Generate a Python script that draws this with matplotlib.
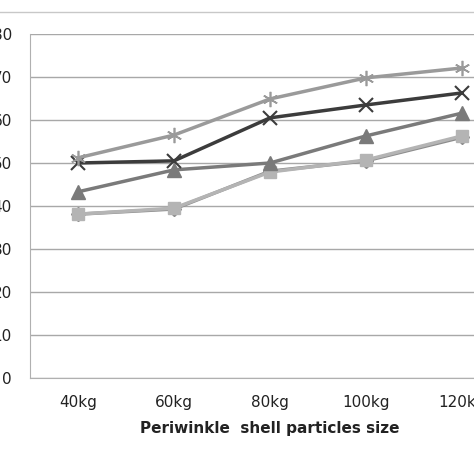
import matplotlib
matplotlib.use("Agg")
import matplotlib.pyplot as plt

cats = ["40kg", "60kg", "80kg", "100kg", "120kg"]
s_star = [51.2, 56.5, 64.9, 69.8, 72.1]
s_x = [50.0, 50.5, 60.5, 63.5, 66.3]
s_tri = [43.3, 48.4, 50.0, 56.3, 61.6]
s_dia = [38.1, 39.3, 48.1, 50.5, 56.0]
s_sq = [38.1, 39.5, 47.9, 50.7, 56.3]
yticks = [0, 10, 20, 30, 40, 50, 60, 70, 80]

fig = plt.figure(figsize=(4.74, 4.74), dpi=100)
fig.add_artist(plt.Line2D([0, 1], [1 - 12/474]*2, color="#c8c8c8", lw=1))
ax = fig.add_axes([30/474, 1 - 378/474, 480/474, (378-34)/474])
x = range(len(cats))
ax.plot(x, s_dia, color="#8c8c8c", lw=2.5, marker="D", ms=7)
ax.plot(x, s_sq, color="#b4b4b4", lw=2.5, marker="s", ms=9)
ax.plot(x, s_tri, color="#7a7a7a", lw=2.5, marker="^", ms=10)
ax.plot(x, s_x, color="#3c3c3c", lw=2.5, marker="x", ms=10, mew=1.5)
ax.plot(x, s_star, color="#9a9a9a", lw=2.5, marker=(6, 2, 0), ms=11, mew=1.2)
ax.set_xlim(-0.5, 4.5)
ax.set_ylim(0, 80)
ax.set_yticks(yticks)
ax.set_yticklabels([str(v) for v in yticks])
ax.set_xticks(list(x))
ax.set_xticklabels(cats)
ax.grid(axis="y", color="#a8a8a8", lw=1)
ax.set_axisbelow(True)
for s in ["top", "right"]:
    ax.spines[s].set_visible(False)
ax.spines["left"].set_color("#b0b0b0")
ax.spines["bottom"].set_color("#b0b0b0")
ax.tick_params(axis="both", length=0, labelsize=11, colors="#222222", pad=12)
ax.tick_params(axis="y", pad=13)
ax.set_xlabel("Periwinkle  shell particles size", fontsize=11, fontweight="bold", color="#222222", labelpad=8)
fig.savefig("out.png", dpi=100)
